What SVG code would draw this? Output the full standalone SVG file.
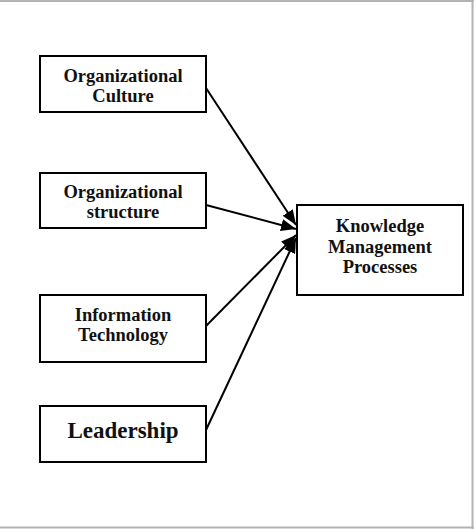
<svg xmlns="http://www.w3.org/2000/svg" width="474" height="529" viewBox="0 0 474 529">
<style>
.box{fill:#fff;stroke:#000;stroke-width:2}
.t{font-family:"Liberation Serif","Times New Roman",serif;font-weight:bold;font-size:18.5px;text-anchor:middle;fill:#111}
.big{font-size:23px}
.c{stroke:#000;stroke-width:2;fill:none;marker-end:url(#ah)}
.frame{stroke:#b3b3b3;stroke-width:2;fill:none}
</style>
<defs>
<marker id="ah" markerUnits="userSpaceOnUse" markerWidth="16" markerHeight="12" refX="15" refY="6" orient="auto">
<path d="M0,0 L15,6 L0,12 Z" fill="#000"/>
</marker>
</defs>
<rect width="474" height="529" fill="#fff"/>
<g id="frame">
<line class="frame" x1="0" y1="1" x2="474" y2="1"/>
<line class="frame" x1="472.5" y1="0" x2="472.5" y2="529"/>
<line class="frame" x1="0" y1="527.5" x2="474" y2="527.5"/>
</g>
<g id="connectors">
<line class="c" x1="206" y1="88" x2="296" y2="225"/>
<line class="c" x1="206" y1="205" x2="296" y2="229"/>
<line class="c" x1="206" y1="326" x2="296" y2="235"/>
<line class="c" x1="206" y1="430" x2="296" y2="238"/>
</g>
<g id="culture">
<rect class="box" x="40" y="56" width="166" height="56"/>
<text class="t" x="123" y="82">Organizational</text>
<text class="t" x="123" y="102">Culture</text>
</g>
<g id="structure">
<rect class="box" x="40" y="173" width="166" height="55"/>
<text class="t" x="123" y="198">Organizational</text>
<text class="t" x="123" y="218">structure</text>
</g>
<g id="it">
<rect class="box" x="40" y="295" width="166" height="67"/>
<text class="t" x="123" y="321">Information</text>
<text class="t" x="123" y="341">Technology</text>
</g>
<g id="leadership">
<rect class="box" x="40" y="406" width="166" height="56"/>
<text class="t big" x="123" y="438">Leadership</text>
</g>
<g id="kmp">
<rect class="box" x="297" y="205" width="166" height="90"/>
<text class="t" x="380" y="232">Knowledge</text>
<text class="t" x="380" y="253">Management</text>
<text class="t" x="380" y="273">Processes</text>
</g>
</svg>
